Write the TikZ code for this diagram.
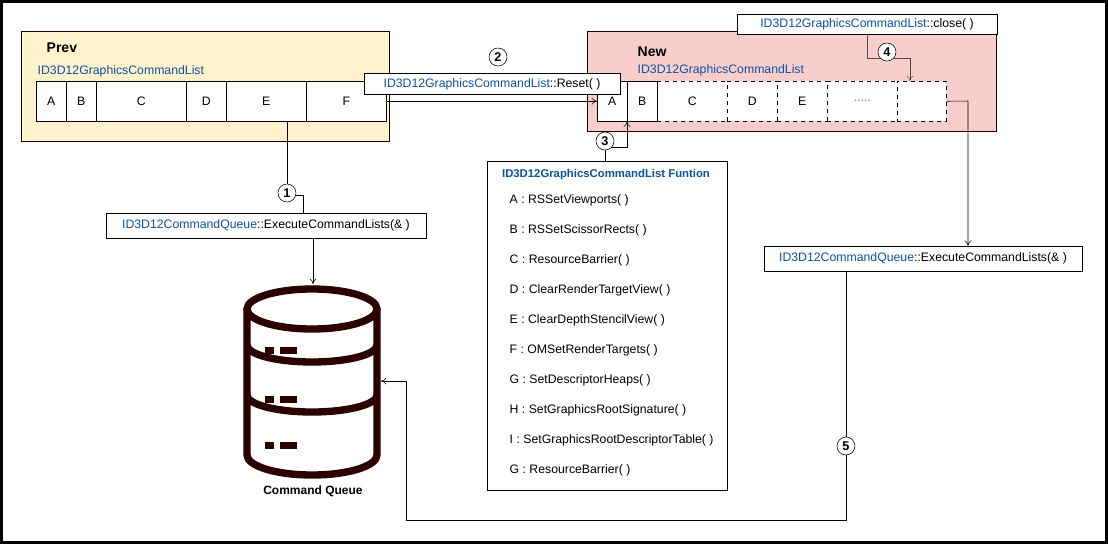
\documentclass[tikz,border=0pt]{standalone}
\usepackage{fontspec}
\setmainfont{Liberation Sans}
\usetikzlibrary{arrows.meta}
\definecolor{dxblue}{HTML}{0F52A0}
\definecolor{dbc}{HTML}{2B0000}
\definecolor{prevfill}{HTML}{FFF2CC}
\definecolor{newfill}{HTML}{F8CECC}
\begin{document}
\begin{tikzpicture}[x=0.75pt,y=-0.75pt,
  txt/.style={font=\fontsize{9.2}{11}\selectfont},
  cell/.style={draw,fill=white,anchor=north west,minimum height=30pt,inner sep=0,txt},
  dcell/.style={cell,dashed},
  lbl/.style={draw,fill=white,inner sep=0,txt},
  num/.style={circle,draw,fill=white,inner sep=0,minimum size=13.5pt,font=\fontsize{9.5}{11}\selectfont\bfseries},
  arr/.style={-{To[length=4pt,width=5pt]}},
  item/.style={anchor=west,txt}]
\useasboundingbox (0,0) rectangle (1108,544);
\draw[line width=2.25pt] (1.5,1.5) rectangle (1106.5,542.5);
% Prev
\node[draw=dbc!80!black,fill=prevfill,anchor=north west,minimum width=276pt,minimum height=82.5pt,inner sep=0] (prev) at (21,31) {};
\node[anchor=west,font=\fontsize{10.5}{12}\selectfont\bfseries] (prevt) at (42,48) {Prev};
\node[anchor=west,txt,text=dxblue] (prevs) at (33,71) {ID3D12GraphicsCommandList};
\node[cell,minimum width=22.5pt] (pa) at (36,81) {A};
\node[cell,minimum width=22.5pt] (pb) at (66,81) {B};
\node[cell,minimum width=67.5pt] (pc) at (96,81) {C};
\node[cell,minimum width=30pt] (pd) at (186,81) {D};
\node[cell,minimum width=60pt] (pe) at (226,81) {E};
\node[cell,minimum width=60pt] (pf) at (306,81) {F};
% New
\node[draw=dbc!80!black,fill=newfill,anchor=north west,minimum width=306.75pt,minimum height=75pt,inner sep=0] (new) at (587,31) {};
\node[anchor=west,font=\fontsize{10.5}{12}\selectfont\bfseries] (newt) at (633,52) {New};
\node[anchor=west,txt,text=dxblue] (news) at (633,70) {ID3D12GraphicsCommandList};
\node[dcell,minimum width=52.5pt] (nc) at (657,81) {C};
\node[dcell,minimum width=37.5pt] (nd) at (727,81) {D};
\node[dcell,minimum width=37.5pt] (ne) at (777,81) {E};
\node[dcell,minimum width=52.5pt,text=gray] (ndots) at (827,81) {.....};
\node[dcell,minimum width=36.75pt] (nl) at (897,81) {};
\node[cell,minimum width=22.5pt] (na) at (597,81) {A};
\node[cell,minimum width=22.5pt] (nb) at (627,81) {B};
% labels
\node[lbl,minimum width=192pt,minimum height=15.75pt] (reset) at (492,84) {\textcolor{dxblue}{ID3D12GraphicsCommandList}::Reset( )};
\node[lbl,minimum width=195pt,minimum height=15pt] (close) at (867,24) {\textcolor{dxblue}{ID3D12GraphicsCommandList}::close( )};
\node[lbl,minimum width=240pt,minimum height=18.75pt] (execL) at (266,225.5) {\textcolor{dxblue}{ID3D12CommandQueue}::ExecuteCommandLists(\& )};
\node[lbl,minimum width=238.5pt,minimum height=18.75pt] (execR) at (923,258.5) {\textcolor{dxblue}{ID3D12CommandQueue}::ExecuteCommandLists(\& )};
% function box
\node[draw,fill=white,anchor=north west,minimum width=180pt,minimum height=246.75pt,inner sep=0] (fn) at (487,161) {};
\node[font=\fontsize{8.5}{10}\selectfont\bfseries,text=dxblue] (fnt) at (606,175) {ID3D12GraphicsCommandList Funtion};
\foreach \t [count=\i from 0] in {A : RSSetViewports( ),B : RSSetScissorRects( ),C : ResourceBarrier( ),D : ClearRenderTargetView( ),E : ClearDepthStencilView( ),F : OMSetRenderTargets( ),G : SetDescriptorHeaps( ),H : SetGraphicsRootSignature( ),I : SetGraphicsRootDescriptorTable( ),G : ResourceBarrier( )}
  \node[item] (fi\i) at (505,200+30*\i) {\t};
% database
\begin{scope}[line width=5.5pt,draw=dbc]
\draw (247,309) -- (247,455) arc[start angle=180,end angle=0,x radius=65,y radius=20] -- (377,309);
\draw (312,309) ellipse[x radius=65,y radius=20];
\draw (247,345) arc[start angle=180,end angle=0,x radius=65,y radius=17];
\draw (247,395) arc[start angle=180,end angle=0,x radius=65,y radius=17];
\end{scope}
\foreach \yy in {347,396,442}{
  \fill[dbc] (265,\yy) rectangle (274,\yy+7);
  \fill[dbc] (280,\yy) rectangle (297,\yy+7);}
\coordinate (db) at (313,284);
\coordinate (dbr) at (381,381);
\node[font=\fontsize{9}{11}\selectfont\bfseries] (dbt) at (313,491) {Command Queue};
% connectors
\coordinate (c1) at (287,195);
\draw (c1 |- pe.south) -- (c1) -| (303,213);
\draw[arr] (execL.south -| db) -- (db);
\draw[arr] (pf.east) -- (na.west);
\coordinate (c3) at (605,147);
\draw[arr] (fn.north -| c3) -- (c3) -| (nb.south west);
\coordinate (c4a) at (867,58);
\coordinate (c4b) at (910,81);
\draw[arr,draw=black!70] (close.south -| c4a) -- (c4a) -| (c4b);
\coordinate (c6) at (968,101);
\draw[arr] (nl.east) -- (c6) -- (execR.north -| c6);
\coordinate (c5) at (846,520);
\coordinate (c5b) at (406,520);
\draw[arr] (execR.south -| c5) -- (c5) -- (c5b) |- (dbr);
% numbers
\node[num] (n1) at (287,193) {1};
\node[num] (n2) at (498,57) {2};
\node[num] (n3) at (605,141) {3};
\node[num] (n4) at (887,52) {4};
\node[num] (n5) at (846,446) {5};
\end{tikzpicture}
\end{document}
